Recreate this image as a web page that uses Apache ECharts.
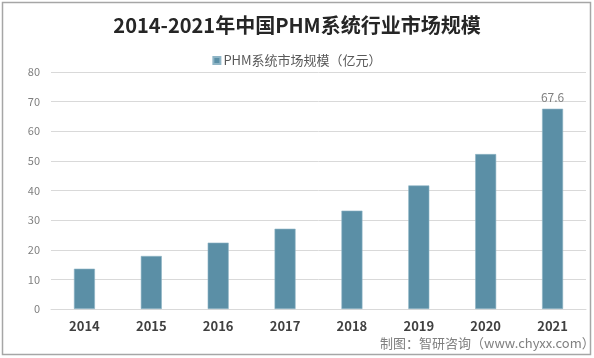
<!DOCTYPE html>
<html>
<head>
<meta charset="utf-8">
<script src="https://cdn.jsdelivr.net/npm/echarts@6/dist/echarts.min.js"></script>
<style>
html,body{margin:0;padding:0;background:#fff;}
#chart{width:594px;height:358px;}
</style>
</head>
<body>
<div id="chart"></div>
<script>
var titleText = '2014-2021年中国PHM系统行业市场规模';
var seriesName = 'PHM系统市场规模（亿元）';
var sourceText = '制图：智研咨询（www.chyxx.com）';
var years = ['2014', '2015', '2016', '2017', '2018', '2019', '2020', '2021'];
var values = [13.6, 17.9, 22.4, 27.1, 33.2, 41.7, 52.3, 67.6];
var labeledYear = '2021';

var FONT = '"Noto Sans CJK SC", "Open Sans", sans-serif';
var chart = echarts.init(document.getElementById('chart'), null, {renderer: 'canvas'});
chart.setOption({
  animation: false,
  backgroundColor: '#ffffff',
  title: {
    text: titleText,
    left: 'center',
    top: 10,
    textStyle: {fontFamily: FONT, fontSize: 20, fontWeight: 'bold', color: '#262626'}
  },
  legend: {
    data: [seriesName],
    top: 49,
    left: 'center',
    itemWidth: 7,
    itemHeight: 7,
    itemGap: 4,
    icon: 'rect',
    textStyle: {fontFamily: FONT, fontSize: 13, color: '#595959', padding: [0, 0, 0, -2]}
  },
  grid: {left: 51, right: 8, top: 72, bottom: 49, containLabel: false},
  xAxis: {
    type: 'category',
    data: years,
    axisLine: {lineStyle: {color: '#d9d9d9', width: 1}},
    axisTick: {show: false},
    axisLabel: {fontFamily: FONT, fontSize: 13, fontWeight: 'bold', color: '#404040', margin: 11}
  },
  yAxis: {
    type: 'value',
    min: 0,
    max: 80,
    interval: 10,
    axisLine: {show: false},
    axisTick: {show: false},
    splitLine: {lineStyle: {color: '#d9d9d9', width: 1}},
    axisLabel: {fontFamily: FONT, fontSize: 11, color: '#7f7f7f', margin: 11}
  },
  series: [{
    name: seriesName,
    type: 'bar',
    barWidth: 21,
    data: values.map(function (v, i) {
      return {
        value: v,
        label: {show: years[i] === labeledYear}
      };
    }),
    itemStyle: {color: '#5b8fa6', borderColor: '#8fb5c6', borderWidth: 0.6},
    label: {
      position: 'top',
      distance: 5,
      fontFamily: FONT,
      fontSize: 12,
      color: '#7f7f7f'
    }
  }],
  graphic: [
    {
      type: 'rect',
      shape: {x: 2.5, y: 2.5, width: 588, height: 352},
      style: {fill: 'none', stroke: '#a6a6a6', lineWidth: 1.5},
      silent: true,
      z: 100
    },
    {
      type: 'text',
      left: 380,
      top: 337,
      style: {text: sourceText, fontFamily: FONT, fontSize: 13, fill: '#7f7f7f'},
      z: 101
    }
  ]
});
</script>
</body>
</html>
